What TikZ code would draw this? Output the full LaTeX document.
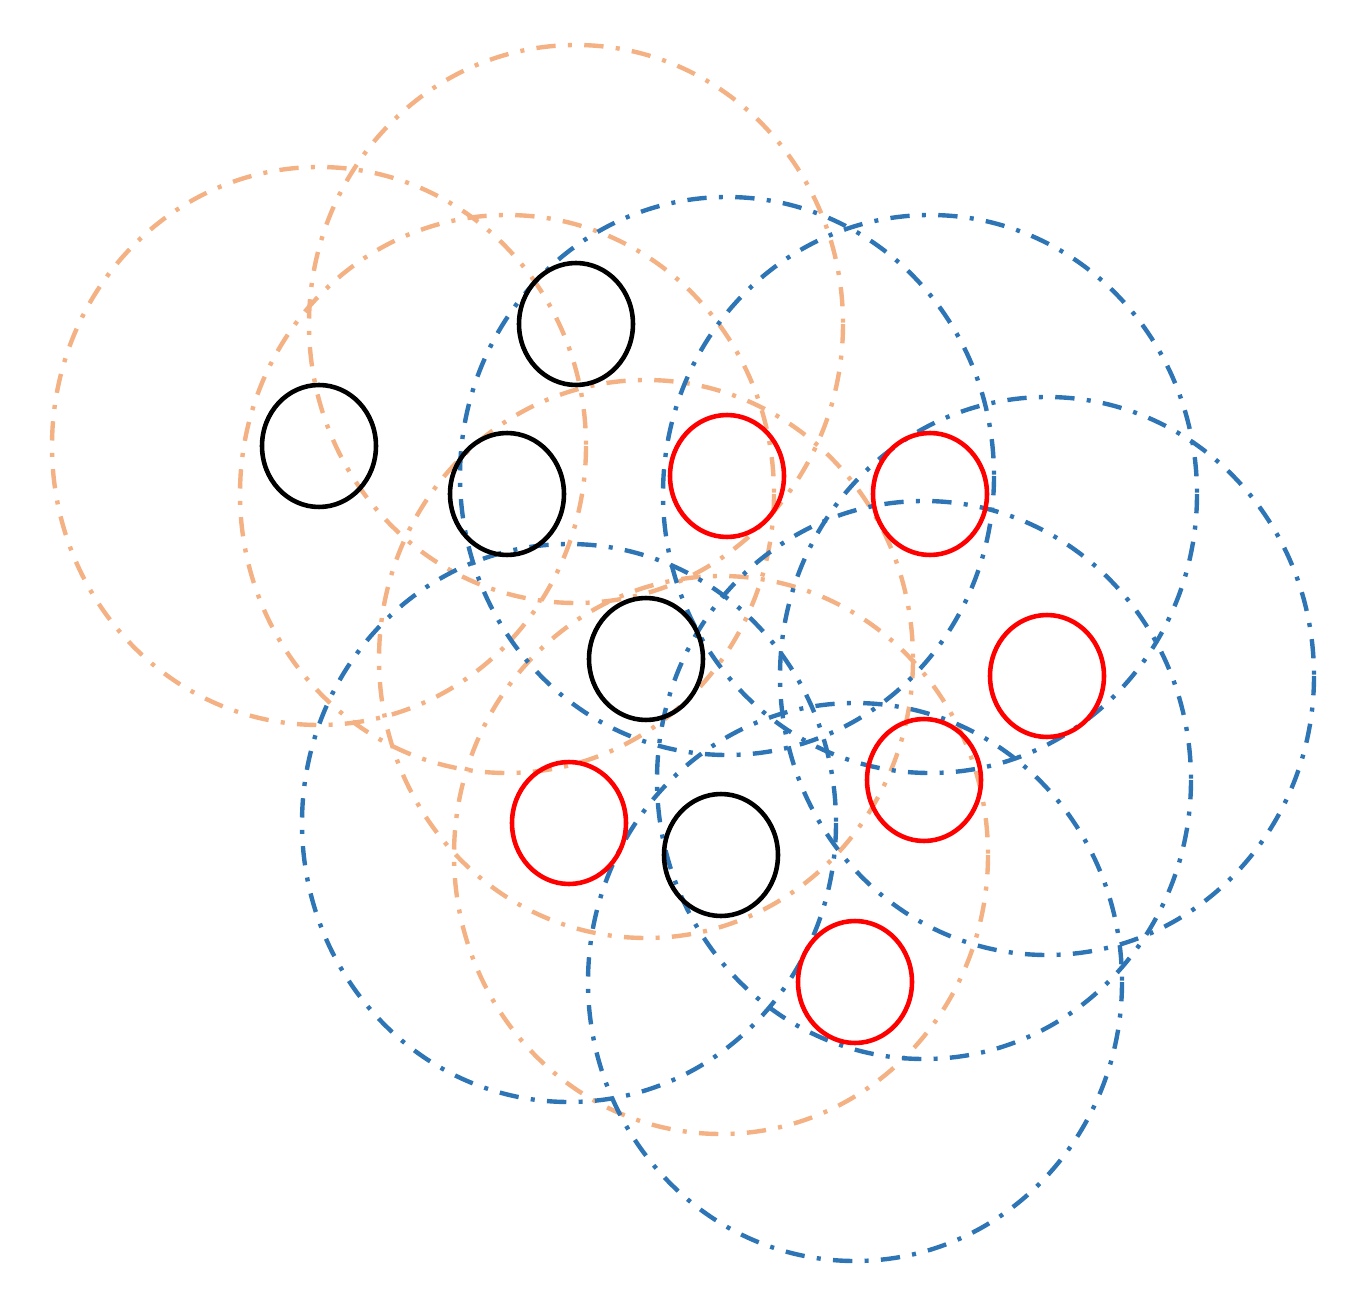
\documentclass[tikz,border=0pt]{standalone}
\usetikzlibrary{shapes.geometric}
\definecolor{peach}{RGB}{244,177,131}
\definecolor{steel}{RGB}{46,117,182}
\tikzset{
  ring/.style={draw, ellipse, inner sep=0pt, minimum width=2.28cm, minimum height=2.44cm, line width=2.6pt},
  blackring/.style={ring, black},
  redring/.style={ring, red},
  reach/.style={line width=2.5pt, dash pattern=on 11pt off 7pt on 2.3pt off 7pt},
  peachreach/.style={reach, peach},
  bluereach/.style={reach, steel}
}
\begin{document}
\begin{tikzpicture}[x=0.02cm,y=-0.02cm]
  \useasboundingbox (0,0) rectangle (1360,1307);
  \coordinate (cb1) at (576,324);
  \coordinate (cb2) at (319,446);
  \coordinate (cb3) at (507,494);
  \coordinate (cb4) at (646,659);
  \coordinate (cb5) at (721,855);
  \coordinate (cr1) at (727,476);
  \coordinate (cr2) at (930,494);
  \coordinate (cr3) at (1047,676);
  \coordinate (cr4) at (924,780);
  \coordinate (cr5) at (569,823);
  \coordinate (cr6) at (855,982);
  % large ranges
  \foreach \c in {cb1,cb2,cb3,cb4,cb5}
    \draw[peachreach] (\c) ellipse [x radius=267, y radius=279];
  \foreach \c in {cr1,cr2,cr3,cr4,cr5,cr6}
    \draw[bluereach] (\c) ellipse [x radius=267, y radius=279];
  % small nodes
  \foreach \c in {1,...,5}
    \node[blackring] (b\c) at (cb\c) {};
  \foreach \c in {1,...,6}
    \node[redring] (r\c) at (cr\c) {};
\end{tikzpicture}
\end{document}
